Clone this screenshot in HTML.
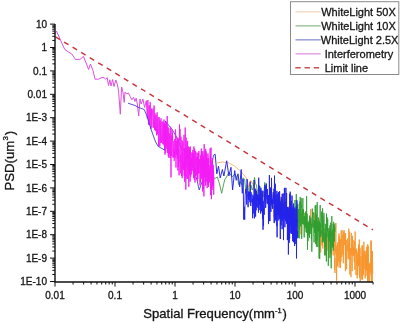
<!DOCTYPE html>
<html><head><meta charset="utf-8"><style>
html,body{margin:0;padding:0;background:#fff;}
body{width:401px;height:323px;overflow:hidden;}
svg{display:block;}
text{font-family:"Liberation Sans",Arial,sans-serif;fill:#151515;stroke:#151515;stroke-width:0.3px;}
</style></head><body>
<svg width="401" height="323" viewBox="0 0 401 323">
<rect width="401" height="323" fill="#fff"/>
<g fill="none" stroke-linejoin="round">
<path d="M216.9 162.9L222.9 162.0 228.9 162.9 234.8 166.3 240.8 171.4 245.9 177.4 246.5 178.3" stroke="#f3b26e" stroke-width="0.9"/>
<path d="M246.5 178.3L248.8 187.3 250.7 180.6 253.0 184.1 254.6 195.2 256.4 191.9 258.1 189.7 259.6 187.3 261.3 201.8 262.5 196.8 263.8 191.4 265.2 192.9 266.3 202.8 267.4 202.4 268.5 195.0 269.6 204.7 270.8 197.3 272.1 194.7 273.1 199.7 274.0 217.4 275.1 195.1 276.2 195.8 277.1 194.9 278.1 198.3 279.0 215.3 280.0 196.5 280.9 202.6 281.8 199.9 282.8 206.5 283.6 207.6 284.5 208.2 285.5 198.5 286.4 206.1 287.2 209.5 288.1 218.2 288.8 206.4 289.6 209.4 290.4 209.1 291.1 204.8 292.0 206.8 292.6 211.2 293.4 210.4 294.0 211.5 294.7 208.3 295.5 208.9 296.2 212.5 296.9 220.4 297.6 209.3 298.3 209.5 299.0 223.7 299.7 213.5 300.3 219.3 300.9 234.3 301.5 217.4 302.0 211.9 302.7 224.0 303.3 224.3 303.9 212.8 304.5 228.6 305.1 227.7 305.6 222.8 306.1 216.7 306.5 217.0 307.0 225.7 307.4 224.2 307.9 221.4 308.4 225.6 308.8 230.2 309.3 232.6 309.9 218.9 310.2 225.6 310.7 209.0 311.1 220.4 311.5 231.4 311.9 224.9 312.4 223.0 312.8 223.0 313.2 223.0 313.6 223.2 313.9 227.6 314.3 222.5 314.8 212.9 315.2 231.4 315.6 231.1 315.9 223.3 316.3 220.0 316.7 223.1 317.1 220.8 317.4 229.4 317.8 231.4 318.2 225.2 318.5 225.3 318.9 219.0 319.3 220.0 319.6 248.6 320.0 225.7 320.3 237.7 320.7 252.5 321.0 229.1 321.3 233.6 321.6 235.7 321.9 245.4 322.1 243.0 322.4 235.1 322.8 248.5 323.1 234.6 323.4 233.0 323.6 235.5 323.9 232.2 324.2 235.2 324.5 246.8 324.7 245.7 325.0 234.3 325.3 228.9 325.6 234.7 325.9 241.2 326.2 235.0 326.4 255.6 326.7 247.2 327.0 240.9 327.2 237.7 327.5 240.8 327.8 240.4 328.0 250.5 328.3 244.2 328.5 236.5 328.8 258.4 329.0 251.7 329.3 242.6 329.5 228.7 329.7 234.5 330.0 228.5 330.3 230.1 330.5 244.9 330.7 240.9 331.0 253.7 331.2 231.3 331.4 234.9 331.6 236.1 331.8 235.6 332.1 237.4 332.3 239.6 332.5 239.2 332.7 231.1 333.0 251.8 333.2 255.4 333.4 242.5 333.6 232.0 333.9 240.9 334.0 246.1 334.2 235.5 334.5 242.9 334.7 269.5 334.9 258.0 335.0 273.0 335.2 248.1 335.4 251.5 335.7 241.0 335.9 223.0 336.0 254.5 336.2 246.4 336.4 252.1 336.6 280.8 336.8 257.9 337.0 257.6 337.2 244.8 337.3 259.8 337.6 266.4 337.7 242.1 337.9 249.8 338.1 261.6 338.3 259.7 338.5 253.2 338.8 240.0 339.0 233.4 339.1 267.6 339.3 236.2 339.6 248.5 339.7 245.2 339.9 238.5 340.1 262.9 340.3 239.7 340.5 267.9 340.7 255.9 340.9 261.5 341.1 230.6 341.3 231.2 341.5 241.0 341.7 243.7 341.8 257.0 342.0 230.1 342.2 233.9 342.4 239.5 342.6 251.1 342.8 254.5 343.0 250.7 343.1 234.8 343.3 263.2 343.5 248.3 343.7 231.4 343.9 239.8 344.1 230.2 344.3 245.0 344.5 244.9 344.7 234.2 344.9 242.4 345.1 245.8 345.3 257.0 345.4 271.2 345.6 233.0 345.8 255.6 346.0 260.4 346.2 239.9 346.4 262.4 346.6 269.2 346.8 257.8 347.0 250.3 347.1 246.5 347.3 243.8 347.5 238.6 347.7 251.1 347.8 245.4 348.0 251.0 348.2 258.7 348.4 244.9 348.6 245.5 348.8 228.6 349.0 242.7 349.1 259.6 349.3 242.7 349.5 253.0 349.6 231.7 349.8 274.5 350.0 259.1 350.2 259.1 350.4 248.1 350.6 251.2 350.8 273.0 351.0 277.1 351.1 247.4 351.3 232.9 351.5 233.0 351.7 255.2 351.8 244.2 352.0 262.3 352.2 271.2 352.4 235.9 352.6 242.3 352.8 254.9 352.9 255.7 353.1 240.0 353.3 246.9 353.5 255.6 353.7 247.7 353.9 251.2 354.1 257.2 354.3 262.1 354.5 241.0 354.7 258.8 354.9 269.8 355.1 231.5 355.3 238.0 355.4 246.4 355.6 253.3 355.8 250.4 356.0 275.1 356.2 253.2 356.3 250.0 356.5 256.2 356.7 248.5 356.9 265.4 357.0 251.7 357.2 278.4 357.4 254.5 357.6 263.8 357.7 275.2 357.9 260.7 358.1 254.6 358.3 264.2 358.5 244.6 358.7 266.2 358.9 244.8 359.0 247.4 359.2 265.3 359.3 239.6 359.5 277.7 359.7 250.2 359.8 255.7 360.0 247.8 360.2 281.6 360.3 275.7 360.5 270.0 360.7 256.7 360.9 256.0 361.1 256.9 361.2 261.2 361.4 268.5 361.6 279.4 361.8 264.2 361.9 251.4 362.1 245.8 362.2 265.7 362.4 245.3 362.6 279.7 362.8 248.8 363.0 275.5 363.1 255.1 363.3 273.6 363.5 273.9 363.7 267.0 363.9 241.8 364.1 269.1 364.2 251.1 364.4 256.5 364.6 254.9 364.7 254.8 364.9 251.3 365.1 278.4 365.3 258.1 365.4 254.6 365.6 268.4 365.8 254.7 366.0 275.8 366.1 250.5 366.3 270.7 366.5 263.7 366.7 250.0 366.8 246.7 367.0 268.8 367.2 270.0 367.3 248.0 367.5 282.0 367.7 244.1 367.8 244.7 368.0 277.7 368.2 246.0 368.4 255.7 368.5 254.6 368.7 282.0 368.9 268.4 369.0 263.4 369.2 267.2 369.4 266.9 369.6 265.3 369.7 282.0 369.9 264.0 370.1 272.5 370.2 262.2 370.4 269.3 370.6 260.9 370.8 257.6 370.9 240.3 371.1 275.4 371.3 241.4 371.4 265.4 371.6 276.9 371.8 282.0 372.0 251.4 372.1 282.0 372.3 251.0 372.5 257.7 372.7 271.8 372.8 273.6" stroke="#f7952a" stroke-width="0.85"/>
<path d="M214.4 179.0L217.4 177.0 219.5 184.0 221.7 193.3 224.6 180.0 226.5 177.0 229.0 172.0 232.0 177.0 235.0 174.0 238.0 180.0 238.5 184.5" stroke="#4a9a4a" stroke-width="0.9"/>
<path d="M238.5 184.5L240.1 181.5 241.6 184.8 243.0 177.8 244.6 179.1 246.0 193.1 247.1 185.1 248.5 189.1 249.9 196.4 251.0 185.1 252.2 190.0 253.3 187.3 254.5 177.5 255.5 183.6 256.5 185.3 257.7 194.6 258.8 200.5 259.9 186.2 261.0 195.6 262.1 193.9 262.9 197.2 263.8 194.5 264.8 182.4 265.6 198.3 266.6 198.6 267.5 196.0 268.5 196.0 269.4 206.9 270.3 211.5 271.2 203.4 271.9 201.1 272.8 205.8 273.5 207.8 274.2 207.8 274.8 204.1 275.4 202.4 276.0 214.1 276.6 206.3 277.2 200.5 277.7 203.8 278.3 213.5 278.8 206.2 279.2 203.9 279.7 199.5 280.1 216.6 280.6 200.5 281.0 208.4 281.5 203.9 282.0 201.4 282.5 212.5 282.8 212.3 283.2 207.2 283.6 202.3 284.0 211.1 284.4 218.1 284.8 212.8 285.2 205.3 285.6 201.0 285.9 212.1 286.3 210.9 286.7 210.0 287.1 209.9 287.5 216.6 287.8 212.8 288.1 208.2 288.4 209.1 288.8 209.9 289.2 218.3 289.5 214.9 289.9 216.4 290.3 204.5 290.6 202.1 290.9 209.2 291.2 201.2 291.5 214.3 291.8 214.5 292.0 223.6 292.3 210.6 292.5 216.6 292.8 211.9 293.0 209.2 293.2 215.2 293.5 223.7 293.7 213.7 294.0 214.1 294.2 213.3 294.4 208.3 294.6 215.9 294.8 216.6 295.0 200.0 295.2 205.3 295.4 215.2 295.6 224.0 295.7 219.1 295.9 211.3 296.1 207.5 296.3 194.0 296.5 217.5 296.6 213.6 296.8 218.9 297.0 214.4 297.1 219.5 297.3 227.2 297.5 206.2 297.7 214.4 297.8 203.9 298.0 221.5 298.1 213.4 298.3 209.8 298.5 237.9 298.7 231.6 298.8 209.1 299.0 215.4 299.2 238.4 299.3 225.4 299.5 229.4 299.7 222.6 299.8 201.7 300.0 224.0 300.2 197.0 300.4 220.2 300.5 226.2 300.7 201.7 300.8 207.9 301.0 203.7 301.2 198.2 301.3 206.9 301.5 205.4 301.7 238.9 301.9 227.8 302.0 213.3 302.2 215.7 302.4 210.7 302.5 223.7 302.7 207.0 302.9 198.1 303.0 212.3 303.1 209.8 303.3 213.1 303.4 209.0 303.6 216.1 303.7 224.5 303.9 216.4 304.1 217.4 304.2 237.4 304.4 216.3 304.6 218.4 304.7 216.7 304.9 225.5 305.0 214.1 305.2 212.8 305.4 227.8 305.5 215.9 305.7 211.5 305.8 211.9 306.0 230.8 306.1 232.2 306.3 219.3 306.5 232.7 306.6 196.1 306.8 230.0 307.0 229.9 307.1 213.7 307.3 226.1 307.5 249.8 307.6 222.2 307.7 232.9 307.9 227.2 308.0 241.1 308.2 232.3 308.4 223.1 308.5 222.2 308.7 235.4 308.8 230.5 309.0 232.3 309.2 220.2 309.3 223.7 309.5 237.7 309.7 215.6 309.8 231.0 310.0 218.3 310.2 233.9 310.3 219.4 310.5 224.1 310.6 222.0 310.8 217.6 311.0 218.3 311.1 221.1 311.3 221.2 311.4 239.2 311.6 224.0 311.7 251.0 311.9 251.7 312.0 227.3 312.2 226.3 312.3 208.6 312.5 216.9 312.7 212.6 312.8 227.6 313.0 219.2 313.2 212.2 313.3 218.5 313.5 220.3 313.6 222.8 313.8 235.7 314.0 235.4 314.1 242.4 314.3 220.0 314.5 227.7 314.6 232.9 314.8 220.7 314.9 231.7 315.1 214.1 315.2 205.6 315.4 220.1 315.5 233.6 315.7 244.0 315.9 205.0 316.0 220.5 316.1 240.2 316.3 214.6 316.4 246.7 316.6 231.1 316.7 228.6 316.9 230.3 317.0 240.4 317.2 202.2 317.3 231.1 317.5 222.3 317.7 225.9 317.8 247.0 318.0 233.6 318.1 224.5 318.3 217.4 318.4 231.3 318.6 223.2 318.8 231.4 318.9 221.3 319.1 258.4 319.2 221.4 319.4 235.5 319.5 235.1 319.7 258.9 319.8 241.6 320.0 221.8 320.2 205.1 320.3 237.3 320.5 236.8 320.6 223.5 320.7 225.6 320.9 236.2 321.0 230.9 321.2 233.8 321.3 222.7 321.5 221.1 321.6 211.6 321.8 220.0 321.9 222.6 322.1 227.8 322.3 220.2 322.4 242.5 322.6 208.3 322.7 227.0 322.9 215.9 323.0 240.5 323.2 219.9 323.3 226.3 323.5 232.8 323.6 239.3 323.8 242.1 323.9 212.8 324.0 218.7 324.2 229.8 324.3 229.1 324.5 240.7 324.6 255.4 324.8 254.9 324.9 239.4 325.0 233.6 325.2 247.1 325.3 223.8 325.5 226.7 325.6 230.4 325.8 255.3 326.0 235.1 326.1 232.7 326.2 249.1 326.4 261.5 326.5 213.6 326.7 226.6 326.9 238.0 327.0 217.1 327.2 222.0 327.3 228.8 327.4 231.1 327.6 225.7 327.7 218.9 327.9 233.0 328.0 236.8 328.2 228.1 328.3 265.9 328.5 233.2 328.6 239.6 328.7 234.5 328.9 236.9 329.0 231.2 329.2 233.6 329.3 234.1 329.5 236.6 329.6 230.4 329.8 241.9 329.9 225.4 330.0 257.8 330.2 233.4 330.3 231.0 330.5 252.6 330.6 241.5 330.7 222.6 330.9 237.7 331.1 247.9 331.2 268.3 331.4 232.9 331.5 235.4 331.7 230.4 331.8 216.1 332.0 236.8 332.1 235.5 332.3 246.2 332.4 237.9 332.5 237.5 332.7 229.7 332.8 231.8 332.9 247.7 333.1 243.9 333.2 223.9 333.3 250.7 333.5 230.4 333.7 221.8 333.8 231.6 333.9 235.7 334.1 224.7 334.2 234.9 334.3 238.6 334.5 241.4 334.6 227.3 334.8 231.9 334.9 223.5" stroke="#2f9e2f" stroke-width="0.85"/>
<path d="M164.5 150.0L165.3 121.0 172.5 130.0 176.0 136.0 178.0 140.0 178.0 140.0 182.0 150.0 186.0 148.0 190.0 160.0 194.0 170.0 197.0 180.0 199.2 190.0 202.0 182.0 205.0 175.0 208.0 185.0 211.0 170.0 213.5 155.2" stroke="#4a3ad0" stroke-width="0.9"/>
<path d="M55.0 33.3L56.6 31.2 60.5 40.2 64.8 49.5 68.5 52.0 71.8 54.0 75.6 59.5 79.9 59.3 81.5 58.3 83.4 56.3 86.5 64.0 88.6 69.5 90.4 64.0 93.0 70.5 95.1 79.2 98.4 79.2 102.0 77.5 104.0 77.7 105.7 79.2 107.2 77.7 108.5 85.5 109.8 79.8 111.0 86.0 112.6 79.5 114.0 86.5 115.8 80.0 117.4 84.5 118.6 91.3 120.3 114.3 121.6 87.0 123.0 92.1 124.2 102.4 125.0 92.1 126.7 93.9 128.4 93.0 130.1 96.4 131.9 99.8 133.6 97.3 134.9 101.5 136.1 98.1 137.3 104.0 138.7 116.0 140.0 99.0 141.2 104.0 142.9 99.0 144.6 107.5 146.3 100.7" stroke="#dc50dc" stroke-width="1"/>
<path d="M146.3 100.7L147.3 118.4 147.9 100.1 148.5 124.8 149.2 105.4 149.7 124.7 150.2 102.2 150.9 129.1 151.4 108.6 151.9 127.5 152.5 110.8 153.1 108.4 153.6 127.8 154.1 105.5 154.6 130.0 155.1 113.4 155.6 131.2 156.1 115.1 156.6 135.3 157.1 112.4 157.6 134.3 158.0 117.4 158.6 146.4 159.0 117.0 159.4 118.8 159.8 146.5 160.2 120.7 160.7 142.7 161.0 118.4 161.5 142.8 161.9 141.3 162.2 121.6 162.6 140.3 162.9 144.3 163.3 121.8 163.7 144.4 164.0 119.6 164.3 146.1 164.7 123.6 165.0 154.6 165.4 124.8 165.7 152.7 166.0 121.8 166.3 146.2 166.6 122.3 166.9 148.9 167.2 116.0 167.6 152.9 167.9 126.7 168.1 155.2 168.4 156.7 168.8 127.8 169.0 158.0 169.4 133.3 169.6 154.1 169.9 153.1 170.2 151.6 170.5 157.5 170.7 126.8 171.0 177.4 171.2 135.7 171.5 135.8 171.7 156.0 172.0 129.7 172.3 140.4 172.5 132.8 172.8 141.0 173.0 157.7 173.2 141.1 173.5 156.8 173.7 157.1 173.9 149.5 174.2 160.8 174.4 158.3 174.6 150.4 174.8 139.1 175.0 157.5 175.3 155.4 175.5 129.5 175.8 135.7 176.0 167.6 176.2 140.9 176.4 150.3 176.6 155.0 176.9 153.2 177.1 137.4 177.3 158.5 177.5 139.3 177.7 150.5 177.9 170.5 178.1 148.2 178.3 138.4 178.5 167.2 178.7 149.3 178.9 152.2 179.1 175.3 179.3 142.0 179.5 124.5 179.8 140.6 180.0 129.2 180.1 162.1 180.3 159.4 180.5 155.0 180.7 173.4 180.9 136.6 181.1 146.8 181.3 163.8 181.5 176.0 181.7 175.0 181.8 158.4 182.0 140.1 182.2 178.1 182.4 160.1 182.5 152.2 182.7 168.3 182.9 141.5 183.1 160.9 183.2 165.0 183.4 163.3 183.6 170.0 183.7 159.3 183.9 142.0 184.0 134.8 184.2 175.8 184.4 158.2 184.5 148.8 184.7 181.9 184.9 156.2 185.0 176.0 185.2 127.5 185.3 147.7 185.5 154.7 185.7 159.2 185.8 189.6 186.0 148.3 186.1 137.6 186.3 167.0 186.5 149.1 186.7 148.8 186.8 178.5 187.0 146.6 187.2 141.8 187.3 155.2 187.5 158.8 187.6 140.9 187.8 179.0 188.0 157.3 188.1 146.2 188.3 169.4 188.4 147.2 188.6 164.5 188.8 186.8 188.9 160.5 189.1 172.2 189.2 155.7 189.4 175.0 189.5 147.5 189.7 169.5 189.8 150.7 190.0 167.8 190.1 181.6 190.3 146.5 190.4 157.8 190.6 165.5 190.7 176.8 190.9 152.5 191.1 152.3 191.2 165.0 191.4 158.0 191.5 174.3 191.7 174.1 191.8 171.8 191.9 157.2 192.1 153.3 192.2 170.9 192.4 153.1 192.5 152.7 192.7 159.7 192.8 150.1 193.0 165.5 193.1 163.3 193.3 156.7 193.4 162.5 193.6 153.0 193.7 178.1 193.9 146.5 194.0 172.3 194.2 164.6 194.3 179.9 194.5 176.0 194.6 148.7 194.8 151.1 194.9 170.9 195.0 182.5 195.2 172.9 195.3 169.0 195.5 174.9 195.6 151.1 195.8 155.6 195.9 163.9 196.1 158.3 196.2 175.5 196.4 175.1 196.5 174.8 196.6 157.3 196.8 160.3 196.9 157.8 197.0 152.5 197.2 176.4 197.3 171.3 197.4 162.9 197.6 181.1 197.7 156.8 197.8 179.0 198.0 154.2 198.1 153.2 198.3 164.5 198.4 173.7 198.5 153.4 198.6 169.7 198.8 161.6 198.9 151.0 199.0 169.9 199.2 172.9 199.3 165.7 199.4 159.2 199.6 160.5 199.7 164.1 199.8 159.9 200.0 185.3 200.1 176.4 200.2 164.4 200.4 177.4 200.5 182.5 200.6 155.4 200.8 177.5 200.9 168.6 201.0 178.9 201.1 164.1 201.3 148.6 201.4 168.5 201.5 153.2 201.6 163.8 201.7 151.3 201.9 170.1 202.0 178.8 202.1 159.0 202.3 181.0 202.4 153.3 202.5 161.2 202.6 191.5 202.8 159.2 202.9 151.1 203.0 177.0 203.2 179.5 203.3 189.1 203.4 157.6 203.6 187.6 203.7 162.9 203.8 155.8 203.9 196.4 204.0 164.0 204.2 144.2 204.3 175.4 204.4 159.7 204.6 167.3 204.7 172.4 204.8 162.2 205.0 151.5 205.1 183.2 205.2 163.0 205.4 165.3 205.5 185.6 205.6 152.2 205.7 148.8 205.8 180.3 206.0 151.1 206.1 168.7 206.2 171.3 206.3 153.8 206.5 177.2 206.6 166.2 206.7 153.9 206.8 156.4 206.9 160.5 207.1 186.0 207.2 188.1 207.3 158.3 207.4 180.7 207.5 181.3 207.6 182.5 207.7 172.3 207.9 185.0 208.0 153.5 208.1 182.1 208.2 171.9 208.4 172.7 208.5 158.2 208.6 186.9 208.7 171.1 208.9 173.2 209.0 165.5 209.1 166.1 209.2 176.3 209.3 168.6 209.4 182.5 209.5 181.4 209.7 172.4 209.8 178.8 209.9 171.7 210.0 167.7 210.1 148.4 210.2 177.1 210.3 168.5 210.4 156.8 210.6 195.2 210.7 191.5 210.8 185.3 210.9 173.2 211.0 147.6 211.1 168.1 211.2 159.9 211.3 165.1 211.4 199.2 211.5 198.3 211.6 162.1 211.8 170.6 211.9 187.1 212.0 161.4 212.1 189.9 212.2 161.4 212.3 158.2 212.4 181.5 212.5 185.3 212.6 164.6 212.7 185.3 212.9 164.6 213.0 186.6 213.1 165.3 213.2 172.5 213.3 178.3 213.4 183.5 213.6 171.3 213.7 194.6 213.8 176.9 213.9 178.3" stroke="#f41cf4" stroke-width="0.9"/>
<path d="M128.0 103.2L135.0 105.5 138.0 107.2 144.2 109.5 146.8 115.6 151.2 129.7 155.6 142.0 158.3 146.5 164.5 150.0" stroke="#4a3ad0" stroke-width="0.9"/>
<path d="M213.5 155.2L215.2 154.3 216.8 173.8 218.5 166.2 220.2 178.0 222.4 169.5 223.9 176.0 226.7 160.8 228.9 176.0 231.0 167.3 232.6 190.0 234.7 170.6 236.2 180.3 238.0 173.8 239.7 186.8 241.2 169.5 242.3 193.3 243.2 179.0 243.7 219.5 244.2 206.8 244.7 219.7 245.1 195.6 245.6 191.1 245.9 189.1 246.3 193.0 246.7 204.5 247.1 179.2 247.4 193.4 247.8 198.9 248.1 207.2 248.4 191.5 248.7 200.0 249.1 199.2 249.3 192.3 249.6 191.9 249.9 202.2 250.2 181.7 250.4 204.3 250.8 206.0 251.1 192.3 251.4 194.9 251.6 196.3 251.9 202.4 252.2 198.8 252.4 206.0 252.7 218.2 252.9 194.7 253.2 213.5 253.5 206.1 253.7 196.4 253.9 203.9 254.2 180.0 254.5 218.4 254.7 211.2 254.9 202.0 255.1 188.6 255.4 204.6 255.6 216.6 255.8 189.4 256.1 210.4 256.3 202.5 256.5 191.1 256.7 206.9 257.0 204.3 257.2 194.1 257.4 200.8 257.7 195.3 257.9 207.8 258.1 198.3 258.3 208.1 258.5 212.6 258.7 177.7 258.9 190.5 259.1 185.5 259.3 204.8 259.5 194.8 259.7 196.7 259.9 210.1 260.1 189.7 260.3 203.4 260.5 198.4 260.7 213.6 260.9 187.8 261.1 191.2 261.3 196.0 261.5 211.3 261.7 208.4 261.9 190.7 262.1 207.4 262.3 202.1 262.4 204.3 262.6 219.1 262.8 190.8 263.0 229.7 263.2 205.0 263.3 208.5 263.5 225.6 263.7 203.3 263.9 200.8 264.0 205.6 264.2 214.8 264.4 199.7 264.6 192.3 264.7 200.9 264.9 184.8 265.1 193.2 265.2 193.5 265.4 186.5 265.6 207.9 265.8 205.8 266.0 194.3 266.1 194.0 266.3 183.5 266.5 187.1 266.6 197.0 266.8 196.5 267.0 201.5 267.1 202.4 267.3 203.4 267.5 189.2 267.7 203.6 267.8 202.3 268.0 197.0 268.1 204.2 268.3 201.2 268.5 224.1 268.6 195.1 268.8 202.3 268.9 197.2 269.1 195.5 269.2 221.1 269.4 175.0 269.6 198.2 269.7 198.2 269.9 221.1 270.0 193.9 270.2 196.3 270.4 204.8 270.5 198.4 270.7 187.7 270.8 205.0 270.9 211.9 271.1 187.5 271.2 198.8 271.4 203.6 271.5 177.9 271.7 200.1 271.8 203.6 272.0 198.9 272.1 206.1 272.3 199.3 272.4 199.9 272.5 208.8 272.7 204.0 272.8 197.8 273.0 196.8 273.1 194.5 273.3 192.1 273.4 197.7 273.6 194.7 273.7 204.0 273.9 202.6 274.0 188.8 274.2 223.1 274.3 195.8 274.5 175.6 274.6 221.8 274.7 184.1 274.9 221.1 275.0 196.7 275.1 183.6 275.3 185.4 275.4 212.2 275.6 217.6 275.7 219.8 275.9 195.5 276.0 207.9 276.1 204.1 276.3 201.8 276.4 200.7 276.6 199.8 276.7 204.6 276.8 226.1 276.9 190.8 277.1 237.3 277.2 193.6 277.4 214.5 277.5 209.4 277.7 213.5 277.8 211.6 277.9 207.2 278.1 210.3 278.2 220.5 278.3 197.6 278.5 213.7 278.6 192.0 278.7 208.1 278.9 215.0 279.0 201.6 279.1 196.8 279.3 217.8 279.4 209.7 279.6 191.2 279.7 219.2 279.8 217.6 280.0 205.5 280.1 222.9 280.3 239.0 280.4 229.4 280.6 204.4 280.7 201.6 280.8 202.6 280.9 205.0 281.1 225.2 281.2 202.2 281.3 197.2 281.5 218.9 281.6 199.7 281.7 214.7 281.8 207.9 282.0 206.0 282.1 229.2 282.2 193.9 282.4 220.8 282.5 210.8 282.6 215.8 282.8 204.4 282.9 204.5 283.0 208.9 283.2 193.4 283.3 205.7 283.4 213.4 283.5 240.1 283.7 211.6 283.8 211.7 283.9 219.3 284.1 219.2 284.2 202.0 284.3 197.1 284.4 187.9 284.6 196.3 284.7 217.9 284.8 206.5 284.9 227.2 285.0 202.0 285.2 206.5 285.3 218.7 285.4 212.6 285.5 215.1 285.6 221.0 285.8 198.6 285.9 187.8 286.0 205.4 286.2 203.5 286.3 214.3 286.4 222.0 286.6 193.0 286.7 223.9 286.8 214.5 286.9 222.2 287.1 213.3 287.2 222.6 287.3 214.5 287.4 240.1 287.6 224.7 287.7 206.9 287.8 237.9 287.9 233.2 288.0 207.3 288.2 218.9 288.3 210.7 288.4 254.5 288.5 222.1 288.6 241.1 288.8 242.4 288.9 217.6 289.0 208.3 289.1 242.8 289.2 237.0 289.4 229.5 289.5 222.8 289.6 238.7 289.7 193.9 289.9 212.2 290.0 224.0 290.1 225.7 290.2 191.7 290.3 192.4 290.4 224.1 290.6 213.0 290.7 202.5 290.8 232.7 290.9 224.2 291.0 200.8 291.1 225.2 291.2 221.4 291.3 234.0 291.4 225.7 291.6 207.8 291.7 226.5 291.8 233.2 291.9 223.8 292.0 195.6 292.1 213.7 292.2 223.1 292.4 214.2 292.5 211.0 292.6 214.8 292.7 241.2 292.8 213.2 292.9 219.4 293.0 207.5 293.1 236.1 293.2 205.7 293.4 224.8 293.5 242.2 293.6 203.5 293.7 226.2 293.8 215.1 293.9 222.1 294.1 207.6 294.2 207.8 294.3 208.1 294.4 212.9 294.5 244.7 294.6 246.0 294.7 219.7 294.8 236.4 294.9 217.3 295.0 221.2 295.2 244.0 295.3 238.9 295.4 240.6 295.5 237.3 295.6 227.7 295.7 216.3 295.8 208.8 296.0 238.9 296.1 233.1 296.2 206.4 296.3 213.9 296.4 221.5 296.5 258.4 296.6 239.0 296.7 222.0 296.8 232.5 296.9 200.3 297.0 222.0 297.1 219.4 297.3 238.2 297.4 236.9 297.5 230.9" stroke="#2323ea" stroke-width="0.95"/>
</g>
<path d="M55.0 36.5L373.0 229.8" stroke="#c8343c" stroke-width="1.45" stroke-dasharray="5.2 4.8" stroke-dashoffset="-0.6" fill="none"/>
<path d="M55.00 24.10V282.00H373.06" stroke="#111" stroke-width="1.4" fill="none"/>
<path d="M50.00 24.10H55.00M52.30 40.46H55.00M52.30 36.34H55.00M52.30 33.41H55.00M52.30 31.14H55.00M52.30 29.29H55.00M52.30 27.72H55.00M52.30 26.37H55.00M52.30 25.17H55.00M50.00 47.50H55.00M52.30 63.86H55.00M52.30 59.74H55.00M52.30 56.81H55.00M52.30 54.54H55.00M52.30 52.69H55.00M52.30 51.12H55.00M52.30 49.77H55.00M52.30 48.57H55.00M50.00 70.90H55.00M52.30 87.26H55.00M52.30 83.14H55.00M52.30 80.21H55.00M52.30 77.94H55.00M52.30 76.09H55.00M52.30 74.52H55.00M52.30 73.17H55.00M52.30 71.97H55.00M50.00 94.30H55.00M52.30 110.66H55.00M52.30 106.54H55.00M52.30 103.61H55.00M52.30 101.34H55.00M52.30 99.49H55.00M52.30 97.92H55.00M52.30 96.57H55.00M52.30 95.37H55.00M50.00 117.70H55.00M52.30 134.06H55.00M52.30 129.94H55.00M52.30 127.01H55.00M52.30 124.74H55.00M52.30 122.89H55.00M52.30 121.32H55.00M52.30 119.97H55.00M52.30 118.77H55.00M50.00 141.10H55.00M52.30 157.46H55.00M52.30 153.34H55.00M52.30 150.41H55.00M52.30 148.14H55.00M52.30 146.29H55.00M52.30 144.72H55.00M52.30 143.37H55.00M52.30 142.17H55.00M50.00 164.50H55.00M52.30 180.86H55.00M52.30 176.74H55.00M52.30 173.81H55.00M52.30 171.54H55.00M52.30 169.69H55.00M52.30 168.12H55.00M52.30 166.77H55.00M52.30 165.57H55.00M50.00 187.90H55.00M52.30 204.26H55.00M52.30 200.14H55.00M52.30 197.21H55.00M52.30 194.94H55.00M52.30 193.09H55.00M52.30 191.52H55.00M52.30 190.17H55.00M52.30 188.97H55.00M50.00 211.30H55.00M52.30 227.66H55.00M52.30 223.54H55.00M52.30 220.61H55.00M52.30 218.34H55.00M52.30 216.49H55.00M52.30 214.92H55.00M52.30 213.57H55.00M52.30 212.37H55.00M50.00 234.70H55.00M52.30 251.06H55.00M52.30 246.94H55.00M52.30 244.01H55.00M52.30 241.74H55.00M52.30 239.89H55.00M52.30 238.32H55.00M52.30 236.97H55.00M52.30 235.77H55.00M50.00 258.10H55.00M52.30 274.46H55.00M52.30 270.34H55.00M52.30 267.41H55.00M52.30 265.14H55.00M52.30 263.29H55.00M52.30 261.72H55.00M52.30 260.37H55.00M52.30 259.17H55.00M50.00 281.50H55.00M55.00 282.00V286.60M73.06 282.00V284.50M83.63 282.00V284.50M91.12 282.00V284.50M96.94 282.00V284.50M101.69 282.00V284.50M105.71 282.00V284.50M109.19 282.00V284.50M112.25 282.00V284.50M115.00 282.00V286.60M133.06 282.00V284.50M143.63 282.00V284.50M151.12 282.00V284.50M156.94 282.00V284.50M161.69 282.00V284.50M165.71 282.00V284.50M169.19 282.00V284.50M172.25 282.00V284.50M175.00 282.00V286.60M193.06 282.00V284.50M203.63 282.00V284.50M211.12 282.00V284.50M216.94 282.00V284.50M221.69 282.00V284.50M225.71 282.00V284.50M229.19 282.00V284.50M232.25 282.00V284.50M235.00 282.00V286.60M253.06 282.00V284.50M263.63 282.00V284.50M271.12 282.00V284.50M276.94 282.00V284.50M281.69 282.00V284.50M285.71 282.00V284.50M289.19 282.00V284.50M292.25 282.00V284.50M295.00 282.00V286.60M313.06 282.00V284.50M323.63 282.00V284.50M331.12 282.00V284.50M336.94 282.00V284.50M341.69 282.00V284.50M345.71 282.00V284.50M349.19 282.00V284.50M352.25 282.00V284.50M355.00 282.00V286.60M373.06 282.00V284.50" stroke="#111" stroke-width="1" fill="none"/>
<g font-size="10">
<text x="47" y="27.70" text-anchor="end">10</text>
<text x="47" y="51.10" text-anchor="end">1</text>
<text x="47" y="74.50" text-anchor="end">0.1</text>
<text x="47" y="97.90" text-anchor="end">0.01</text>
<text x="47" y="121.30" text-anchor="end">1E-3</text>
<text x="47" y="144.70" text-anchor="end">1E-4</text>
<text x="47" y="168.10" text-anchor="end">1E-5</text>
<text x="47" y="191.50" text-anchor="end">1E-6</text>
<text x="47" y="214.90" text-anchor="end">1E-7</text>
<text x="47" y="238.30" text-anchor="end">1E-8</text>
<text x="47" y="261.70" text-anchor="end">1E-9</text>
<text x="47" y="285.10" text-anchor="end">1E-10</text>
<text x="55.00" y="298.8" text-anchor="middle">0.01</text>
<text x="115.00" y="298.8" text-anchor="middle">0.1</text>
<text x="175.00" y="298.8" text-anchor="middle">1</text>
<text x="235.00" y="298.8" text-anchor="middle">10</text>
<text x="295.00" y="298.8" text-anchor="middle">100</text>
<text x="355.00" y="298.8" text-anchor="middle">1000</text>
</g>
<text x="143.3" y="318" font-size="13.1">Spatial Frequency(mm<tspan font-size="7.5" dy="-5">-1</tspan><tspan dy="5" dx="0.8">)</tspan></text>
<text transform="translate(13.5 190.6) rotate(-90)" font-size="13.2">PSD(um<tspan font-size="8" dy="-6" dx="0.3">3</tspan><tspan dy="6" dx="0.8">)</tspan></text>
<g font-size="11">
<rect x="290.5" y="1.7" width="108.3" height="72.8" fill="#fff" stroke="#8a8a8a" stroke-width="1"/>
<path d="M295.5 11.80H320.7" stroke="#f4e0cc" stroke-width="1.6"/>
<text x="321.2" y="15.70">WhiteLight 50X</text>
<path d="M295.5 25.80H320.7" stroke="#a8c8a8" stroke-width="1.6"/>
<text x="321.2" y="29.70">WhiteLight 10X</text>
<path d="M295.5 39.80H320.7" stroke="#a0a2dc" stroke-width="1.6"/>
<text x="320.8" y="43.70">WhiteLight 2.5X</text>
<path d="M295.5 53.80H320.7" stroke="#e8a8e8" stroke-width="1.6"/>
<text x="324.7" y="57.70">Interferometry</text>
<path d="M295.3 67.80H320" stroke="#c85050" stroke-width="1.6" stroke-dasharray="5.4 3.8"/>
<text x="324.7" y="71.70">Limit line</text>
</g>
</svg>
</body></html>
